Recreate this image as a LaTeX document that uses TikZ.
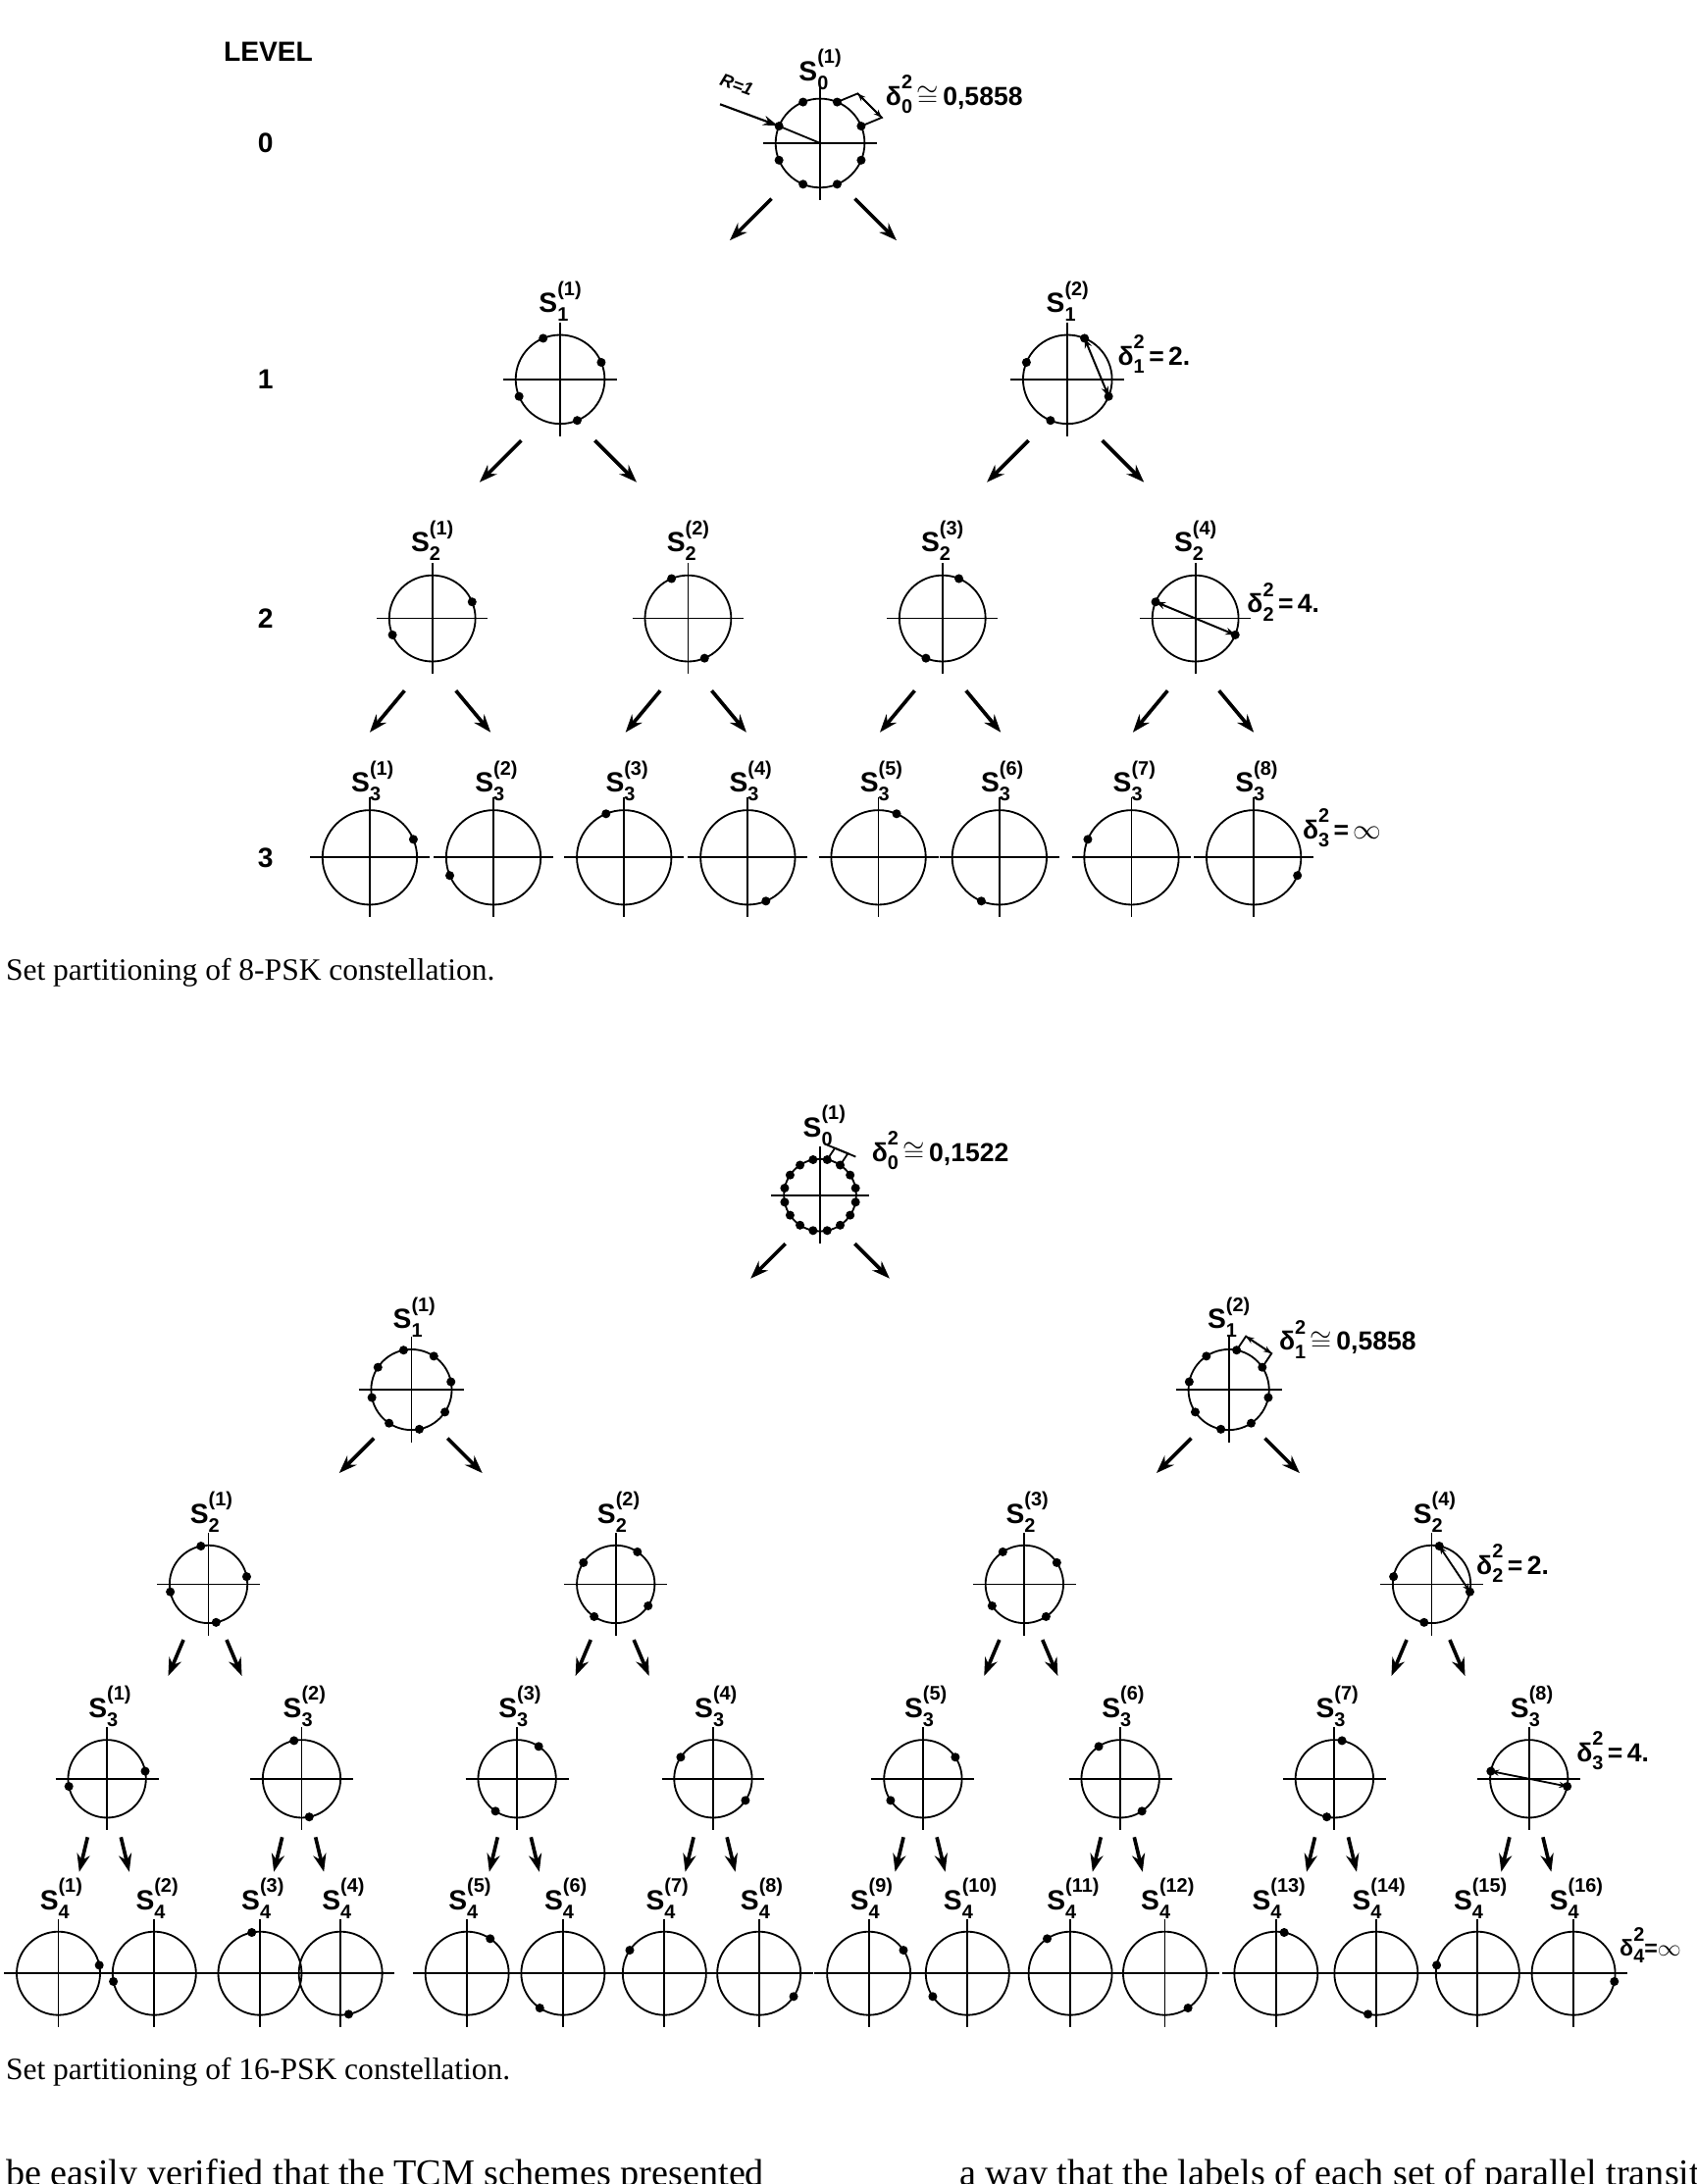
\documentclass[tikz,border=0pt]{standalone}
\usepackage{fontspec}
\setmainfont{Liberation Serif}
\setsansfont{Liberation Sans}
\usetikzlibrary{arrows.meta,calc}
\newcommand\Sl[2]{S\rlap{\raisebox{-0.32em}{\fontsize{12}{12}\selectfont #1}}\raisebox{0.62em}{\fontsize{12}{12}\selectfont(#2)}}
\newcommand\Dl[1]{δ\rlap{\raisebox{-0.32em}{\fontsize{12}{12}\selectfont #1}}\raisebox{0.62em}{\fontsize{12}{12}\selectfont 2}}
% #1 name, #2 x, #3 y, #4 radius, #5 angles
\newcommand\psk[5]{%
  \node[minimum size=0pt,inner sep=0pt] (#1) at (#2,#3) {};
  \draw[cl] (#1) circle[radius=#4];
  \draw[cl] ($(#1)+(-#4-9,0)$) -- ($(#1)+(#4+9,0)$);
  \draw[cl] ($(#1)+(0,-#4-9)$) -- ($(#1)+(0,#4+9)$);
  \foreach \pa in {#5}{\fill ($(#1)+(-\pa:#4)$) circle[radius=3.2];}
}
\tikzset{
  cl/.style={line width=1.1pt},
  arr/.style={line width=2.2pt,-{Stealth[length=11pt,width=8pt]}},
  lab/.style={font=\sffamily\bfseries\fontsize{17}{19}\selectfont,inner sep=0pt},
  dl/.style={font=\sffamily\bfseries\fontsize{16}{18}\selectfont,inner sep=0pt,anchor=west},
  captext/.style={font=\fontsize{19}{21}\selectfont,anchor=west,inner sep=0pt},
  body/.style={font=\fontsize{23}{25}\selectfont,anchor=west,inner sep=0pt},
}
\begin{document}
\begin{tikzpicture}[x=0.03cm,y=-0.03cm]
\useasboundingbox (0,0) rectangle (1220.2,1571.6);
\clip (0,0) rectangle (1220.2,1571.6);
% ---------------- 8-PSK ----------------
\node[lab] (lev) at (193,37) {LEVEL};
\node[lab] (l0) at (191,103) {0};
\node[lab] (l1) at (191,273) {1};
\node[lab] (l2) at (191,445) {2};
\node[lab] (l3) at (191,617) {3};
% level 0
\psk{a0}{590}{103}{32}{22.5,67.5,112.5,157.5,202.5,247.5,292.5,337.5}
\node[lab] (a0l) at (590,50) {\Sl{0}{1}};
\draw[cl] (a0) -- ($(a0)+(-157.5:32)$);
\draw[line width=1.3pt,-{Stealth[length=9pt,width=6pt]}] ($(a0)+(-72,-28)$) -- ($(a0)+(-157.5:33)$);
\node[font=\sffamily\bfseries\itshape\fontsize{11}{12}\selectfont,rotate=-20] (r1) at ($(a0)+(-60,-42)$) {R=1};
\draw[cl] ($(a0)+(-67.5:32)$) -- ($(a0)+(-67.5:32)+(-22.5:16)$) coordinate (b1)
  -- ($(a0)+(-22.5:32)+(-22.5:16)$) coordinate (b2) -- ($(a0)+(-22.5:32)$);
\draw[line width=1pt,{Stealth[length=5pt]}-{Stealth[length=5pt]}] (b1) -- (b2);
\node[dl] (d0) at (637,68) {\Dl{0}\,$\cong$\,0,5858};
\draw[arr] (555,143) -- (525,173);
\draw[arr] (615,143) -- (645,173);
% level 1
\psk{a11}{403}{273}{32}{22.5,112.5,202.5,292.5}
\psk{a12}{768}{273}{32}{67.5,157.5,247.5,337.5}
\node[lab] (a11l) at (403,217) {\Sl{1}{1}};
\node[lab] (a12l) at (768,217) {\Sl{1}{2}};
\draw[line width=1.2pt,{Stealth[length=6pt]}-{Stealth[length=6pt]}] ($(a12)+(-67.5:32)$) -- ($(a12)+(22.5:32)$);
\node[dl] (d1) at (804,255) {\Dl{1}\,=\,2.};
\foreach \cx in {403,768}{
  \draw[arr] (\cx-28,317) -- (\cx-58,347);
  \draw[arr] (\cx+25,317) -- (\cx+55,347);}
% level 2
\psk{a21}{311}{445}{31}{22.5,202.5}
\psk{a22}{495}{445}{31}{112.5,292.5}
\psk{a23}{678}{445}{31}{67.5,247.5}
\psk{a24}{860}{445}{31}{157.5,337.5}
\draw[line width=1.2pt,{Stealth[length=6pt]}-{Stealth[length=6pt]}] ($(a24)+(-157.5:31)$) -- ($(a24)+(-337.5:31)$);
\node[lab] (a21l) at (311,389) {\Sl{2}{1}};
\node[lab] (a22l) at (495,389) {\Sl{2}{2}};
\node[lab] (a23l) at (678,389) {\Sl{2}{3}};
\node[lab] (a24l) at (860,389) {\Sl{2}{4}};
\node[dl] (d2) at (897,433) {\Dl{2}\,=\,4.};
\foreach \cx in {311,495,678,860}{
  \draw[arr] (\cx-20,497) -- (\cx-45,527);
  \draw[arr] (\cx+17,497) -- (\cx+42,527);}
% level 3
\psk{a31}{266}{617}{34}{22.5}
\psk{a32}{355}{617}{34}{202.5}
\psk{a33}{449}{617}{34}{112.5}
\psk{a34}{538}{617}{34}{292.5}
\psk{a35}{632}{617}{34}{67.5}
\psk{a36}{719}{617}{34}{247.5}
\psk{a37}{814}{617}{34}{157.5}
\psk{a38}{902}{617}{34}{337.5}
\node[lab] (a31l) at (268,562) {\Sl{3}{1}};
\node[lab] (a32l) at (357,562) {\Sl{3}{2}};
\node[lab] (a33l) at (451,562) {\Sl{3}{3}};
\node[lab] (a34l) at (540,562) {\Sl{3}{4}};
\node[lab] (a35l) at (634,562) {\Sl{3}{5}};
\node[lab] (a36l) at (721,562) {\Sl{3}{6}};
\node[lab] (a37l) at (816,562) {\Sl{3}{7}};
\node[lab] (a38l) at (904,562) {\Sl{3}{8}};
\node[dl] (d3) at (937,596) {\Dl{3}\,=\,$\infty$};
\node[captext] (c8) at (4,700) {Set partitioning of 8-PSK constellation.};
% ---------------- 16-PSK ----------------
\psk{b0}{590}{860}{26}{11.25,33.75,56.25,78.75,101.25,123.75,146.25,168.75,191.25,213.75,236.25,258.75,281.25,303.75,326.25,348.75}
\node[lab] (b0l) at (593,810) {\Sl{0}{1}};
\draw[cl] ($(b0)+(-78.75:26)$) -- ($(b0)+(-78.75:26)+(-56.25:10)$) coordinate (e1)
  -- ($(b0)+(-56.25:26)+(-56.25:10)$) coordinate (e2) -- ($(b0)+(-56.25:26)$);
\draw[cl] ($(e1)!-0.6!(e2)$) -- ($(e2)!-0.6!(e1)$);
\node[dl] (e0) at (627,828) {\Dl{0}\,$\cong$\,0,1522};
\draw[arr] (565,895) -- (540,920);
\draw[arr] (615,895) -- (640,920);
% level 1
\psk{b11}{296}{1000}{29}{11.25,56.25,101.25,146.25,191.25,236.25,281.25,326.25}
\psk{b12}{884}{1000}{29}{33.75,78.75,123.75,168.75,213.75,258.75,303.75,348.75}
\node[lab] (b11l) at (298,948) {\Sl{1}{1}};
\node[lab] (b12l) at (884,948) {\Sl{1}{2}};
\draw[cl] ($(b12)+(-78.75:29)$) -- ($(b12)+(-78.75:29)+(-56.25:12)$) coordinate (f1)
  -- ($(b12)+(-33.75:29)+(-56.25:12)$) coordinate (f2) -- ($(b12)+(-33.75:29)$);
\draw[line width=1pt,{Stealth[length=5pt]}-{Stealth[length=5pt]}] (f1) -- (f2);
\node[dl] (e1l) at (920,964) {\Dl{1}\,$\cong$\,0,5858};
\foreach \cx in {296,884}{
  \draw[arr] (\cx-27,1035) -- (\cx-52,1060);
  \draw[arr] (\cx+26,1035) -- (\cx+51,1060);}
% level 2
\psk{b21}{150}{1140}{28}{11.25,101.25,191.25,281.25}
\psk{b22}{443}{1140}{28}{56.25,146.25,236.25,326.25}
\psk{b23}{737}{1140}{28}{33.75,123.75,213.75,303.75}
\psk{b24}{1030}{1140}{28}{78.75,168.75,258.75,348.75}
\draw[line width=1.1pt,{Stealth[length=5pt]}-{Stealth[length=5pt]}] ($(b24)+(-78.75:28)$) -- ($(b24)+(-348.75:28)$);
\node[lab] (b21l) at (152,1088) {\Sl{2}{1}};
\node[lab] (b22l) at (445,1088) {\Sl{2}{2}};
\node[lab] (b23l) at (739,1088) {\Sl{2}{3}};
\node[lab] (b24l) at (1032,1088) {\Sl{2}{4}};
\node[dl] (e2l) at (1062,1125) {\Dl{2}\,=\,2.};
\foreach \cx in {150,443,737,1030}{
  \draw[arr] (\cx-18,1180) -- (\cx-29,1206);
  \draw[arr] (\cx+13,1180) -- (\cx+24,1206);}
% level 3
\psk{b31}{77}{1280}{28}{11.25,191.25}
\psk{b32}{217}{1280}{28}{101.25,281.25}
\psk{b33}{372}{1280}{28}{56.25,236.25}
\psk{b34}{513}{1280}{28}{146.25,326.25}
\psk{b35}{664}{1280}{28}{33.75,213.75}
\psk{b36}{806}{1280}{28}{123.75,303.75}
\psk{b37}{960}{1280}{28}{78.75,258.75}
\psk{b38}{1100}{1280}{28}{168.75,348.75}
\draw[line width=1.1pt,{Stealth[length=5pt]}-{Stealth[length=5pt]}] ($(b38)+(-168.75:28)$) -- ($(b38)+(-348.75:28)$);
\node[lab] (b31l) at (79,1228) {\Sl{3}{1}};
\node[lab] (b32l) at (219,1228) {\Sl{3}{2}};
\node[lab] (b33l) at (374,1228) {\Sl{3}{3}};
\node[lab] (b34l) at (515,1228) {\Sl{3}{4}};
\node[lab] (b35l) at (666,1228) {\Sl{3}{5}};
\node[lab] (b36l) at (808,1228) {\Sl{3}{6}};
\node[lab] (b37l) at (962,1228) {\Sl{3}{7}};
\node[lab] (b38l) at (1102,1228) {\Sl{3}{8}};
\node[dl] (e3l) at (1134,1260) {\Dl{3}\,=\,4.};
\foreach \cx in {77,217,372,513,664,806,960,1100}{
  \draw[arr] (\cx-14,1322) -- (\cx-20,1347);
  \draw[arr] (\cx+10,1322) -- (\cx+16,1347);}
% level 4
\foreach \n/\cx/\ang in {1/42/11.25,2/111/191.25,3/187/101.25,4/245/281.25,5/336/56.25,6/405/236.25,7/478/146.25,8/546/326.25,9/625/33.75,10/696/213.75,11/770/123.75,12/838/303.75,13/918/78.75,14/990/258.75,15/1063/168.75,16/1132/348.75}{
  \psk{c\n}{\cx}{1420}{30}{\ang}
  \node[lab] (c\n l) at (\cx+2,1366) {\Sl{4}{\n}};
}
\node[dl,font=\sffamily\bfseries\fontsize{14}{16}\selectfont] (e4l) at (1165,1400) {\Dl{4}=$\infty$};
\node[captext] (c16) at (4,1491) {Set partitioning of 16-PSK constellation.};
\node[body] (t1) at (4,1566) {be easily verified that the TCM schemes presented};
\node[body] (t2) at (690,1566) {a way that the labels of each set of parallel transition};
\end{tikzpicture}
\end{document}
